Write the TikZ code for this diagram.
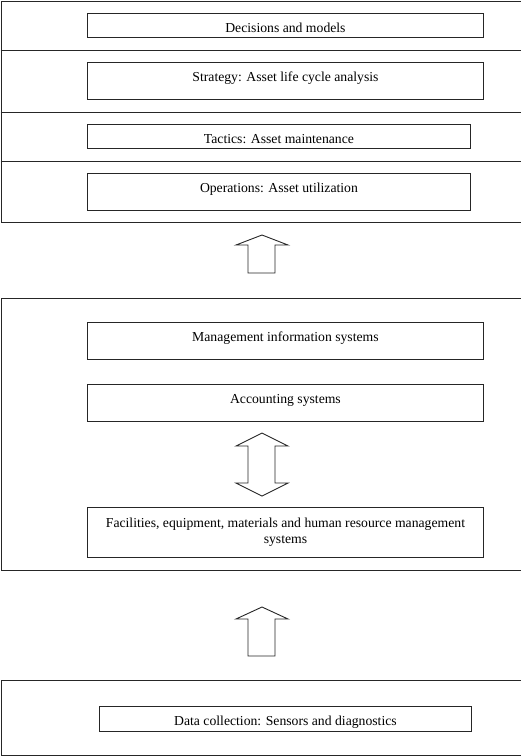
\documentclass[tikz,border=0pt]{standalone}
\usepackage{fontspec}
\setmainfont{Liberation Serif}
\usetikzlibrary{positioning}
\tikzset{lyr/.style={draw=black!85,line width=0.9pt,anchor=north west,inner xsep=0pt,inner ysep=0pt,text height=19.5pt,font=\fontsize{13.7}{15.8}\selectfont}}
\tikzset{wrapbox/.style={draw=black!85,line width=0.9pt,anchor=north west,inner sep=0pt,align=center,font=\fontsize{13.7}{15.8}\selectfont}}
\tikzset{frame/.style={draw=black!85,line width=0.9pt,anchor=north west,inner sep=0pt}}
\tikzset{blk/.style={draw=black!85,line width=0.9pt,line join=miter}}

\begin{document}
\begin{tikzpicture}[x=1pt,y=-1pt]
\useasboundingbox (0,0) rectangle (521,756);

% decision levels
\node[frame,minimum width=520pt,minimum height=221pt] (levels) at (0.5,1) {};
\draw[black!85,line width=0.9pt] (0.5,50) -- (520.5,50);
\draw[black!85,line width=0.9pt] (0.5,112) -- (520.5,112);
\draw[black!85,line width=0.9pt] (0.5,161) -- (520.5,161);
\node[lyr,minimum width=396pt,text depth=4.5pt] (dm) at (87,13) {Decisions and models};
\node[lyr,minimum width=396pt,text depth=17.5pt] (strat) at (87,62) {Strategy: Asset life cycle analysis};
\node[lyr,minimum width=383pt,text depth=4.5pt] (tact) at (87,124) {Tactics: Asset maintenance};
\node[lyr,minimum width=383pt,text depth=17.5pt] (oper) at (87,173) {Operations: Asset utilization};

% information systems
\node[frame,minimum width=520pt,minimum height=272pt] (systems) at (0.5,298) {};
\node[lyr,minimum width=396pt,text depth=17.5pt] (mis) at (87,322) {Management information systems};
\node[lyr,minimum width=396pt,text depth=17.5pt] (acc) at (87,384) {Accounting systems};
\node[wrapbox,minimum width=396pt,minimum height=50pt] (fac) at (87,507)
  {Facilities, equipment, materials and human resource management\\systems};

% data collection
\node[frame,minimum width=520pt,minimum height=75pt] (data) at (0.5,680) {};
\node[lyr,minimum width=372pt,text depth=5.5pt] (sens) at (99,706) {Data collection: Sensors and diagnostics};

% block arrows
\coordinate (up1) at (262,235);
\coordinate (both) at (262,433);
\coordinate (up2) at (262,607);
\draw[blk] (up1) -- ++(26,10) -- ++(-13,0) -- ++(0,28) -- ++(-27,0) -- ++(0,-28) -- ++(-12,0) -- cycle;
\draw[blk] (both) -- ++(26,13) -- ++(-13,0) -- ++(0,37) -- ++(13,0) -- ++(-26,13)
  -- ++(-26,-13) -- ++(12,0) -- ++(0,-37) -- ++(-12,0) -- cycle;
\draw[blk] (up2) -- ++(26,12) -- ++(-13,0) -- ++(0,37) -- ++(-27,0) -- ++(0,-37) -- ++(-12,0) -- cycle;
\end{tikzpicture}
\end{document}
